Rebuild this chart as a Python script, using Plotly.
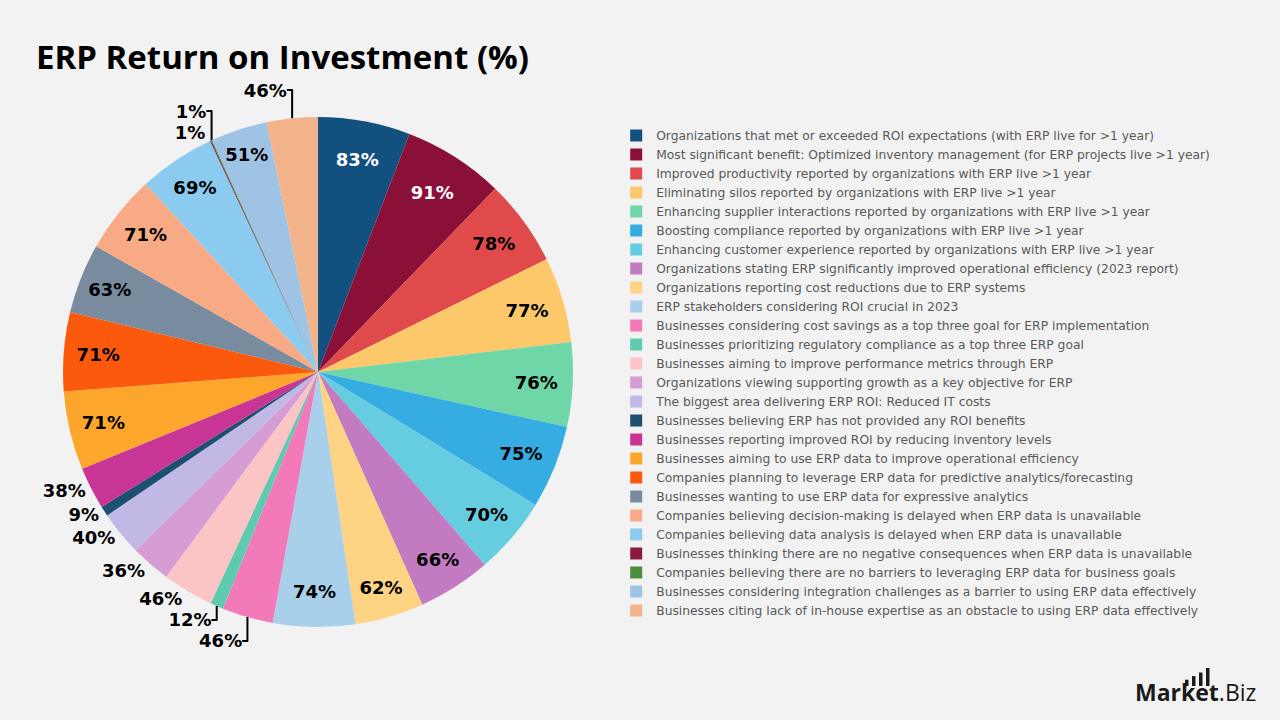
import plotly.graph_objects as go

labels = [
    "Organizations that met or exceeded ROI expectations (with ERP live for >1 year)",
    "Most significant benefit: Optimized inventory management (for ERP projects live >1 year)",
    "Improved productivity reported by organizations with ERP live >1 year",
    "Eliminating silos reported by organizations with ERP live >1 year",
    "Enhancing supplier interactions reported by organizations with ERP live >1 year",
    "Boosting compliance reported by organizations with ERP live >1 year",
    "Enhancing customer experience reported by organizations with ERP live >1 year",
    "Organizations stating ERP significantly improved operational efficiency (2023 report)",
    "Organizations reporting cost reductions due to ERP systems",
    "ERP stakeholders considering ROI crucial in 2023",
    "Businesses considering cost savings as a top three goal for ERP implementation",
    "Businesses prioritizing regulatory compliance as a top three ERP goal",
    "Businesses aiming to improve performance metrics through ERP",
    "Organizations viewing supporting growth as a key objective for ERP",
    "The biggest area delivering ERP ROI: Reduced IT costs",
    "Businesses believing ERP has not provided any ROI benefits",
    "Businesses reporting improved ROI by reducing inventory levels",
    "Businesses aiming to use ERP data to improve operational efficiency",
    "Companies planning to leverage ERP data for predictive analytics/forecasting",
    "Businesses wanting to use ERP data for expressive analytics",
    "Companies believing decision-making is delayed when ERP data is unavailable",
    "Companies believing data analysis is delayed when ERP data is unavailable",
    "Businesses thinking there are no negative consequences when ERP data is unavailable",
    "Companies believing there are no barriers to leveraging ERP data for business goals",
    "Businesses considering integration challenges as a barrier to using ERP data effectively",
    "Businesses citing lack of in-house expertise as an obstacle to using ERP data effectively",
]
values = [83, 91, 78, 77, 76, 75, 70, 66, 62, 74, 46, 12, 46, 36, 40, 9, 38,
          71, 71, 63, 71, 69, 1, 1, 51, 46]
colors = ["#12507f", "#8b1038", "#e04a4a", "#fcc86a", "#6fd6a8", "#35ade2",
          "#66cde0", "#c27bc0", "#fed383", "#a8d0ea", "#f27ab8", "#5ecbb0",
          "#fbc5c5", "#d59dd4", "#c2b8e6", "#1c4f70", "#c83594", "#fca72c",
          "#fb5a0c", "#798b9e", "#f8aa85", "#8bcbf0", "#8a1a40", "#4a8f3a",
          "#9fc3e5", "#f3b38a"]
logo_bars = [0.35, 0.55, 0.75, 1.0]

text_labels = [f"{v}%" for v in values]
positions = ["outside" if v < 50 else "inside" for v in values]
text_colors = ["white" if c in ("#12507f", "#8b1038") else "black" for c in colors]

fig = go.Figure(go.Pie(
    labels=labels,
    values=values,
    text=text_labels,
    textinfo="text",
    textposition=positions,
    insidetextorientation="horizontal",
    sort=False,
    direction="clockwise",
    rotation=0,
    marker=dict(colors=colors, line=dict(width=0)),
    textfont=dict(family="DejaVu Sans", size=18, color=text_colors, weight=700),
    outsidetextfont=dict(family="DejaVu Sans", size=18, color="black", weight=700),
    domain=dict(x=[63 / 1280, 573 / 1280], y=[93 / 720, 603 / 720]),
    hoverinfo="label+value",
))

fig.update_layout(
    width=1280, height=720,
    margin=dict(l=0, r=0, t=0, b=0),
    paper_bgcolor="#f2f2f2",
    plot_bgcolor="#f2f2f2",
    uniformtext=dict(minsize=18, mode="show"),
    showlegend=True,
    legend=dict(
        x=0.4814, y=0.832, xanchor="left", yanchor="top",
        font=dict(family="DejaVu Sans", size=12.3, color="#595959"),
        bgcolor="rgba(0,0,0,0)",
        tracegroupgap=0,
        itemwidth=30,
    ),
)
fig.add_annotation(text="<b>ERP Return on Investment (%)</b>", xref="paper", yref="paper",
                   x=35 / 1280, y=1 - 57 / 720, xanchor="left", yanchor="middle",
                   showarrow=False, borderpad=0,
                   font=dict(family="Open Sans", size=33, color="black"))
fig.add_annotation(text="<b>Market</b>.Biz", xref="paper", yref="paper",
                   x=1258 / 1280, y=1 - 692 / 720, xanchor="right", yanchor="middle",
                   showarrow=False, font=dict(family="Open Sans", size=23, color="#1a1a1a"))
# logo bars above "ket"
for i, h in enumerate(logo_bars):
    x0 = 1185 + i * 7
    fig.add_shape(type="rect", xref="paper", yref="paper",
                  x0=x0 / 1280, x1=(x0 + 3.5) / 1280,
                  y0=1 - 686 / 720, y1=1 - (686 - 18 * h) / 720,
                  fillcolor="#1a1a1a", line=dict(width=0))

fig.write_html("out.html")
